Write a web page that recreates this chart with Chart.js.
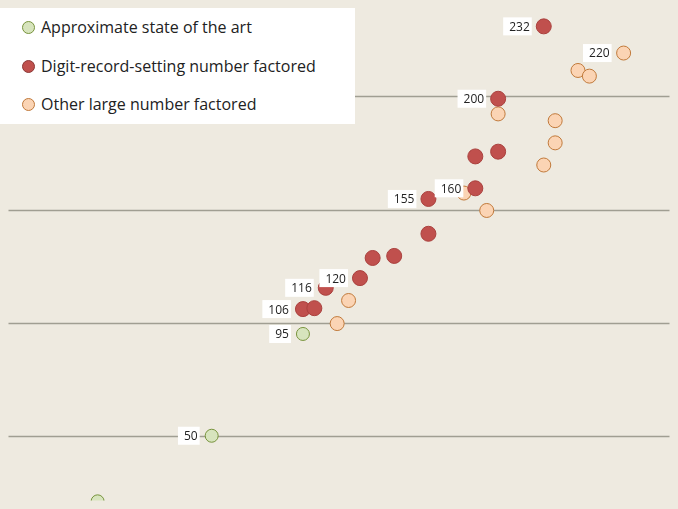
<!DOCTYPE html>
<html>
<head>
<meta charset="utf-8">
<script src="https://cdn.jsdelivr.net/npm/chart.js@4"></script>
<style>
  html, body { margin: 0; padding: 0; background: #eeeae0; }
  #wrap { position: relative; width: 678px; height: 509px; }
  #legend { position: absolute; left: 0; top: 8px; width: 355px; height: 116px; background: #fff;
    font-family: "Open Sans", sans-serif; font-size: 16px; color: #222; }
  .row { position: absolute; left: 22px; }
  .dot { display: inline-block; width: 11px; height: 11px; border-radius: 50%; margin-right: 6px; vertical-align: -1px; }
</style>
</head>
<body>
<div id="wrap">
  <canvas id="myChart" width="678" height="509"></canvas>
  <div id="legend">
    <div class="row" style="top:8px"><span class="dot" style="background:#d7e4bd;border:1px solid #77933c"></span>Approximate state of the art</div>
    <div class="row" style="top:47px"><span class="dot" style="background:#c0504d;border:1px solid #8c3836"></span>Digit-record-setting number factored</div>
    <div class="row" style="top:85px"><span class="dot" style="background:#fbd4b4;border:1px solid #c0793a"></span>Other large number factored</div>
  </div>
</div>
<script>
// year, digits
var artYears = [1973.8, 1982.8, 1990.0];
var artDigits = [21, 50, 95];
var artLabels = ['', '50', '95'];

var recordYears = [1990.0, 1990.9, 1991.8, 1994.5, 1995.5, 1997.2, 1999.9, 1999.9, 2003.6, 2003.6, 2005.4, 2005.4, 2009.0];
var recordDigits = [106, 106.4, 115.4, 119.7, 128.6, 129.5, 139.3, 154.7, 159.4, 173.5, 175.6, 199, 231];
var recordLabels = ['106', '', '116', '120', '', '', '', '155', '160', '', '', '200', '232'];

var otherYears = [1992.7, 1993.6, 2002.7, 2004.5, 2005.4, 2009.0, 2009.9, 2009.9, 2011.7, 2012.6, 2015.3];
var otherDigits = [99.6, 109.8, 157.3, 149.6, 192.3, 169.7, 179.5, 189.3, 211.5, 209, 219.2];
var otherLabels = ['', '', '', '', '', '', '', '', '', '', '220'];

var gridValues = [50, 100, 150, 200];

function pts(xs, ys) {
    var out = [];
    for (var i = 0; i < xs.length; i++) out.push({ x: xs[i], y: ys[i] });
    return out;
}

var gridPlugin = {
    id: 'hGrid',
    beforeDatasetsDraw: function(chart) {
        var ctx = chart.ctx, y = chart.scales.y, area = chart.chartArea;
        ctx.save();
        ctx.strokeStyle = '#a09e92';
        ctx.lineWidth = 1.3;
        gridValues.forEach(function(v) {
            var py = Math.round(y.getPixelForValue(v)) + 0.5;
            ctx.beginPath();
            ctx.moveTo(area.left, py);
            ctx.lineTo(area.right, py);
            ctx.stroke();
        });
        ctx.restore();
    }
};

var labelPlugin = {
    id: 'pointLabels',
    afterDatasetsDraw: function(chart) {
        var ctx = chart.ctx;
        var sets = [artLabels, recordLabels, otherLabels];
        ctx.save();
        ctx.font = '12px "Open Sans", sans-serif';
        ctx.textBaseline = 'middle';
        ctx.textAlign = 'right';
        sets.forEach(function(labels, d) {
            var meta = chart.getDatasetMeta(d);
            meta.data.forEach(function(el, i) {
                if (!labels[i]) return;
                var w = ctx.measureText(labels[i]).width;
                var right = el.x - 14;
                ctx.fillStyle = '#fff';
                ctx.fillRect(right - w - 6, el.y - 9, w + 8, 18);
                ctx.fillStyle = '#222';
                ctx.fillText(labels[i], right, el.y + 1);
            });
        });
        ctx.restore();
    }
};

var ctx = document.getElementById('myChart').getContext('2d');
var myChart = new Chart(ctx, {
    type: 'scatter',
    data: {
        datasets: [
            { data: pts(artYears, artDigits), backgroundColor: '#d7e4bd', borderColor: '#77933c', borderWidth: 1, pointRadius: 6.5 },
            { data: pts(recordYears, recordDigits), backgroundColor: '#c0504d', borderColor: '#a9403d', borderWidth: 1, pointRadius: 7.5 },
            { data: pts(otherYears, otherDigits), backgroundColor: '#fbd4b4', borderColor: '#c0793a', borderWidth: 1, pointRadius: 7 }
        ]
    },
    options: {
        responsive: false,
        animation: false,
        layout: { padding: 0 },
        plugins: { legend: { display: false }, tooltip: { enabled: false } },
        scales: {
            x: { min: 1966.77, max: 2018.92, display: false },
            y: { min: 21.37, max: 238.9, display: false }
        }
    },
    plugins: [gridPlugin, labelPlugin]
});
</script>
</body>
</html>
